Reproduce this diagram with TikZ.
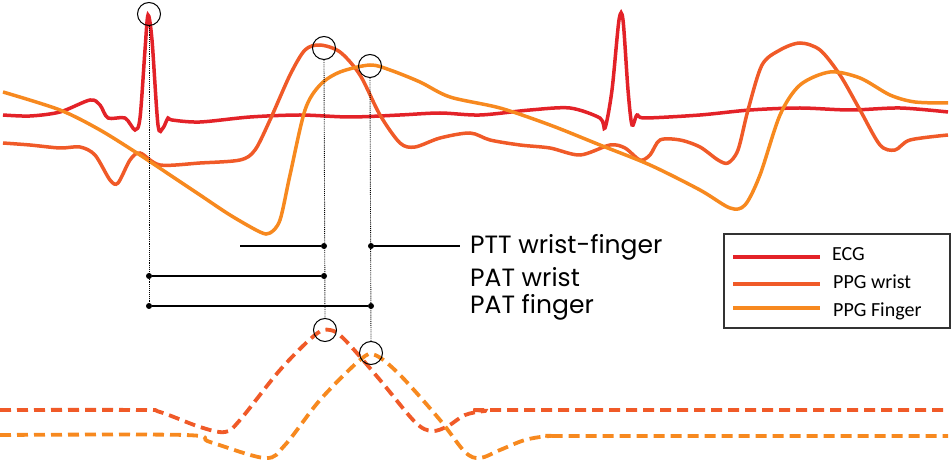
\documentclass[tikz,border=0pt]{standalone}
\usepackage{fontspec}
\setmainfont{Poppins}
\newfontfamily\legfont{Carlito}
\definecolor{ecgc}{HTML}{E32228}
\definecolor{wrc}{HTML}{F05A28}
\definecolor{fic}{HTML}{F7891F}
\begin{document}
\begin{tikzpicture}[x=1pt,y=-1pt,
  sig/.style={line width=3.5pt,smooth,tension=0.5},
  dsig/.style={line width=3.8pt,dash pattern=on 11pt off 6pt,smooth,tension=0.55},
  vguide/.style={densely dotted,line width=0.9pt},
  mark0/.style={circle,draw,line width=1pt,minimum size=23pt,inner sep=0},
  dot/.style={circle,fill,inner sep=0,minimum size=6pt},
  lab/.style={anchor=west,font=\fontsize{25}{26}\selectfont,inner sep=0},
  leg/.style={anchor=west,font=\legfont\fontsize{20}{21}\selectfont,inner sep=0}]
\useasboundingbox (0,0) rectangle (951,462);
% signals
\draw[sig,ecgc] plot coordinates {(3,115)(30,116)(60,112)(90,100)(100,105)(108,118)(125,118)(135,130)(140,118)(145,50)(148,15)(152,40)(158,125)(163,128)(168,118)(172,120)(200,122)(250,117)(300,115)(350,117)(400,115)(440,113)(480,115)(530,110)(570,108)(600,118)(605,128)(612,90)(619,20)(623,20)(628,90)(632,125)(637,115)(645,118)(700,115)(750,110)(800,108)(850,110)(900,108)(948,112)};
\draw[sig,wrc] plot coordinates {(3,143)(30,145)(60,148)(80,147)(95,155)(110,180)(118,183)(130,160)(140,153)(160,165)(200,163)(240,160)(255,150)(270,120)(290,75)(305,50)(320,45)(340,52)(360,75)(380,115)(400,143)(415,147)(440,138)(470,133)(490,140)(520,145)(550,148)(580,155)(610,145)(625,148)(640,160)(650,155)(660,140)(680,140)(700,147)(718,160)(728,163)(738,150)(748,110)(762,65)(780,50)(800,43)(820,50)(840,75)(860,110)(880,145)(895,150)(910,140)(948,135)};
\draw[sig,fic] plot coordinates {(3,92)(60,110)(100,130)(140,155)(170,175)(200,195)(230,215)(260,232)(270,233)(280,220)(290,175)(305,110)(320,85)(340,72)(370,65)(390,70)(420,82)(450,97)(500,108)(550,125)(600,145)(650,165)(700,190)(730,208)(745,205)(760,175)(780,115)(800,85)(830,72)(860,78)(890,95)(915,102)(948,103)};
\draw[dsig,wrc] plot coordinates {(0,410)(140,410)(160,412)(200,427)(225,432)(240,420)(280,370)(315,335)(330,330)(345,340)(380,380)(415,422)(432,431)(448,426)(465,415)(485,411)(510,410)(948,410)};
\draw[dsig,fic] plot coordinates {(0,435)(185,435)(210,442)(265,458)(285,445)(320,400)(360,360)(375,355)(400,375)(440,420)(465,452)(480,458)(500,450)(525,440)(550,436)(580,436)(948,436)};
% markers
\node[mark0] (c1) at (149,14) {};
\node[mark0] (c2) at (324,48) {};
\node[mark0] (c3) at (370,66) {};
\node[mark0] (c4) at (325,330) {};
\node[mark0] (c5) at (371,353) {};
\node[dot] (d1) at (324,246) {};
\node[dot] (d2) at (371,246) {};
\node[dot] (d3) at (149,276) {};
\node[dot] (d4) at (324,276) {};
\node[dot] (d5) at (149,306) {};
\node[dot] (d6) at (371,306) {};
\coordinate (l1) at (240,246);
\coordinate (r1) at (460,246);
\draw[vguide] (c1.south) -- (d5);
\draw[vguide] (c2.south) -- (c4.north);
\draw[vguide] (c3.south) -- (c5.north);
\draw[line width=1.2pt] (l1) -- (d1) (d2) -- (r1) (d3) -- (d4) (d5) -- (d6);
\node[lab] (t1) at (470,247) {PTT wrist-finger};
\node[lab] (t2) at (470,277) {PAT wrist};
\node[lab] (t3) at (470,307) {PAT finger};
% legend
\draw[line width=1.2pt,black!80] (724,234) rectangle (950,328);
\draw[line width=3.5pt,ecgc] (733,257) -- (820,257);
\draw[line width=3.5pt,wrc] (733,284) -- (820,284);
\draw[line width=3.5pt,fic] (733,308) -- (820,308);
\node[leg] (e1) at (832,254) {ECG};
\node[leg] (e2) at (833,282) {PPG wrist};
\node[leg] (e3) at (833,311) {PPG Finger};
\end{tikzpicture}
\end{document}
